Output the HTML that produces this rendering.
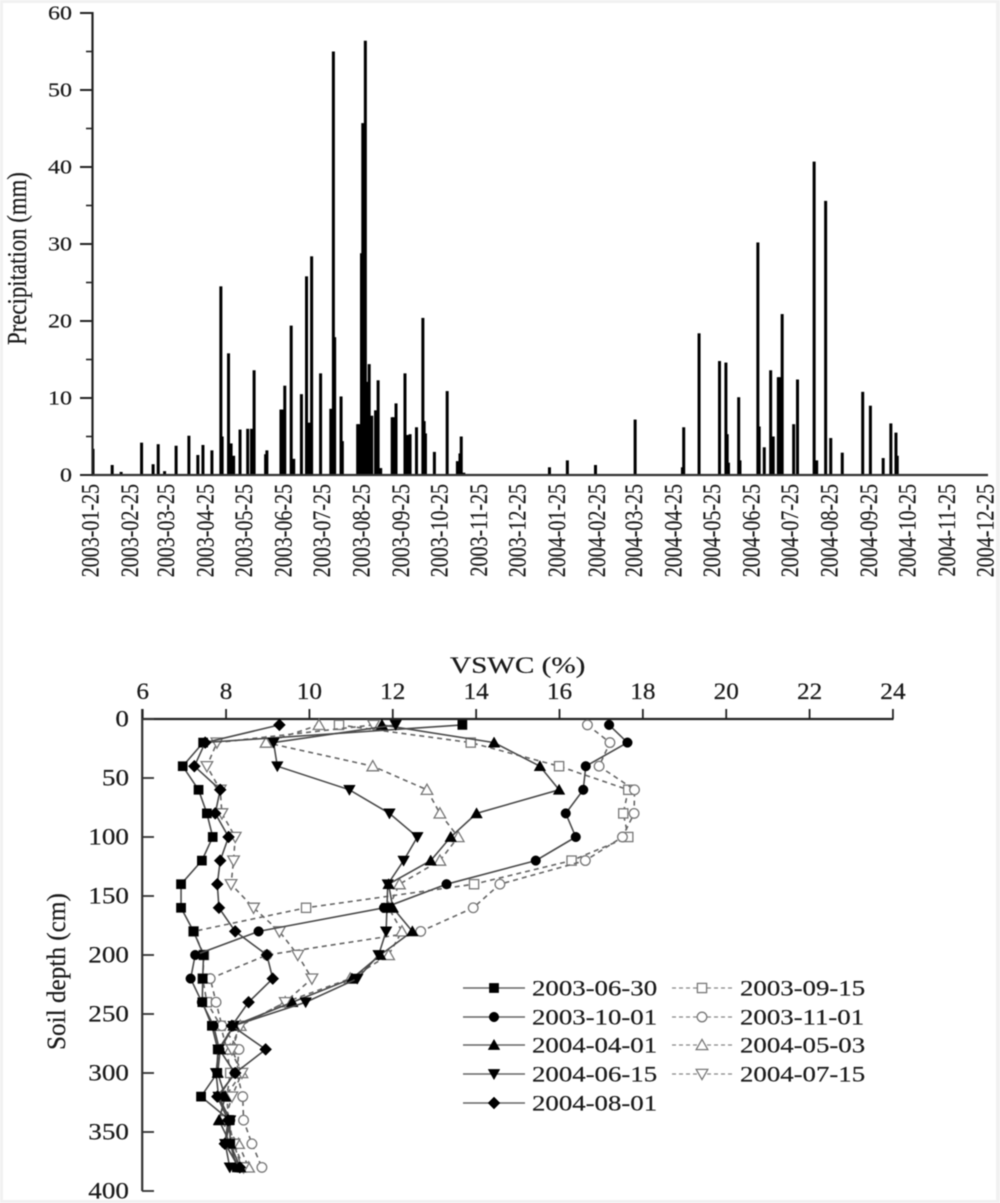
<!DOCTYPE html>
<html lang="en">
<head>
<meta charset="utf-8">
<title>Precipitation and soil water content</title>
<style>
html,body{margin:0;padding:0;background:#fff;width:1000px;height:1203px;overflow:hidden}
svg{display:block;filter:blur(0.6px)}
text{font-family:"Liberation Serif",serif;fill:#1a1a1a;stroke:#1a1a1a;stroke-width:0.2px}
</style>
</head>
<body>
<svg id="chart" width="1000" height="1203" viewBox="0 0 1000 1203" xmlns="http://www.w3.org/2000/svg">
  <rect x="0" y="0" width="1000" height="1203" fill="#f1f1f1"/>
  <rect x="3" y="3" width="993" height="1197" fill="#fff"/>
  <g id="precip-panel"></g>
  <g id="vswc-panel"></g>
  <text font-size="27" transform="translate(26,345) rotate(-90) scale(0.845,1)">Precipitation (mm)</text>
  <text font-size="26" transform="translate(65,1050) rotate(-90) scale(0.97,1)">Soil depth (cm)</text>
  <text font-size="23" transform="translate(450,673) scale(1.27,1)">VSWC (%)</text>
</svg>
<script>
// ---------- precipitation data ----------
const precipDays = [0,15,22,38,47,51,56,65,75,82,86,93,100,101,106,108,110,115,121,124,126,135,136,147,148,150,155,157,163,167,169,171,178,186,188,189,194,195,207,208,210,211,213,214,216,218,221,223,225,234,235,237,244,246,248,253,258,259,260,267,277,285,287,288,290,357,371,393,424,461,462,474,490,495,496,497,505,506,520,521,525,530,532,536,537,539,548,551,564,566,573,577,586,602,608,618,624,628,629];
const precipValues = [3.4,1.3,0.4,4.2,1.4,4.0,0.5,3.8,5.1,2.6,3.9,3.2,24.5,5.0,15.8,4.1,2.5,5.9,6.0,6.0,13.6,2.7,3.2,8.5,8.5,11.6,19.4,2.1,10.5,25.8,6.8,28.4,13.2,8.6,55,17.9,10.2,4.4,6.6,6.6,28.8,45.7,56.4,12.1,14.4,7.7,8.4,12.3,0.9,7.5,7.5,9.3,13.2,5.2,5.3,6.2,20.4,7.0,5.4,3.0,10.9,1.8,2.8,5.0,0.3,1.0,1.9,1.3,7.2,1.0,6.2,18.4,14.8,14.6,5.3,1.6,10.1,1.9,30.2,6.3,3.6,13.6,5.0,12.7,12.7,20.9,6.6,12.4,40.7,1.9,35.6,4.8,2.9,10.8,9.0,2.2,6.7,5.5,2.5];
const precipDateLabels = ["2003-01-25","2003-02-25","2003-03-25","2003-04-25","2003-05-25","2003-06-25","2003-07-25","2003-08-25","2003-09-25","2003-10-25","2003-11-25","2003-12-25","2004-01-25","2004-02-25","2004-03-25","2004-04-25","2004-05-25","2004-06-25","2004-07-25","2004-08-25","2004-09-25","2004-10-25","2004-11-25","2004-12-25"];
const precipYTicks = [0,10,20,30,40,50,60];
const precipYMinorTicks = [5,15,25,35,45,55];

// ---------- soil moisture data ----------
const depths = [5,20,40,60,80,100,120,140,160,180,200,220,240,260,280,300,320,340,360,380];
const vswc20030630 = [13.67,7.45,6.96,7.34,7.54,7.68,7.42,6.92,6.92,7.22,7.46,7.44,7.43,7.66,7.8,7.79,7.4,8.09,8.1,8.26];
const vswc20031001 = [17.19,17.63,16.63,16.57,16.15,16.39,15.43,13.29,11.79,8.78,7.26,7.15,7.42,7.7,7.84,8.21,7.82,8.1,7.98,8.3];
const vswc20040401 = [11.74,14.43,15.53,15.99,14.01,13.39,12.91,11.9,12.0,12.47,11.7,11.02,9.59,8.18,7.86,7.8,7.98,7.83,8.1,8.34];
const vswc20040615 = [12.07,9.14,9.23,10.96,11.92,12.59,12.26,11.88,11.86,11.84,11.66,11.15,9.91,8.18,7.82,7.76,7.82,8.1,7.98,8.09];
const vswc20040801 = [9.28,7.5,7.24,7.86,7.74,8.06,7.86,7.79,7.83,8.22,8.98,9.12,8.54,8.14,8.95,8.22,7.79,8.05,7.97,8.33];
const vswc20030915 = [10.71,13.87,15.99,17.65,17.53,17.65,16.29,13.95,9.92,7.22,7.47,7.44,7.54,7.87,8.02,8.1,8.02,8.06,8.18,8.38];
const vswc20031101 = [16.67,17.21,16.95,17.8,17.79,17.51,16.62,14.57,13.93,12.67,8.98,7.62,7.76,7.9,8.31,8.26,8.4,8.42,8.62,8.86];
const vswc20040503 = [10.23,8.96,11.52,12.82,13.13,13.57,13.13,12.16,11.9,12.22,11.9,10.98,9.42,8.34,8.1,8.38,7.98,7.86,8.3,8.54];
const vswc20040715 = [11.54,7.78,7.54,7.86,7.9,8.22,8.18,8.12,8.66,9.28,9.72,10.06,9.42,8.34,8.14,8.38,8.14,7.98,8.19,8.42];
const vswcXTicks = [6,8,10,12,14,16,18,20,22,24];
const depthTicks = [0,50,100,150,200,250,300,350,400];
const seriesNames = ["2003-06-30","2003-10-01","2004-04-01","2004-06-15","2004-08-01","2003-09-15","2003-11-01","2004-05-03","2004-07-15"];
const seriesMarkers = ["square","circle","up","down","diamond","square","circle","up","down"];
const seriesValues = [vswc20030630,vswc20031001,vswc20040401,vswc20040615,vswc20040801,vswc20030915,vswc20031101,vswc20040503,vswc20040715];

// ---------- helpers ----------
const NS = "http://www.w3.org/2000/svg";
function mk(tag, parent, attrs) {
  const el = document.createElementNS(NS, tag);
  for (const k in attrs) el.setAttribute(k, attrs[k]);
  parent.appendChild(el);
  return el;
}
const dayMs = 86400000;
const startDate = Date.UTC(2003, 0, 25);
function dateToDay(s) {
  const p = s.split("-");
  return (Date.UTC(+p[0], +p[1] - 1, +p[2]) - startDate) / dayMs;
}
function xDay(d) { return 93 + d * 1.2786; }
function yPrecip(v) { return 475 - v * 7.7; }
function xVswc(v) { return 142.7 + (v - 6) * 41.68; }
function yDepth(d) { return 719 + d * 1.18; }

// ---------- precipitation panel ----------
const pp = document.getElementById("precip-panel");
precipDays.forEach(function (day, i) {
  const top = yPrecip(precipValues[i]);
  const bar = mk("rect", pp, {x: xDay(day) - 1.5, y: top, width: 3, height: 475 - top, fill: "#000"});
  
  
});
const pyAxis = mk("line", pp, {x1: 92.5, y1: 12, x2: 92.5, y2: 476, stroke: "#222", "stroke-width": 2.2});


const pxAxis = mk("line", pp, {x1: 92, y1: 475, x2: 988, y2: 475, stroke: "#333", "stroke-width": 2.2});


precipYTicks.forEach(function (v) {
  const y = yPrecip(v);
  const t = mk("line", pp, {x1: 80, y1: y, x2: 92.5, y2: y, stroke: "#222", "stroke-width": 2});
  
  
  const l = mk("text", pp, {"font-size": 20, "text-anchor": "end", transform: "translate(72," + (y + 6.5) + ") scale(1.2,1)"});
  l.textContent = v;
  
  
});
precipYMinorTicks.forEach(function (v) {
  const y = yPrecip(v);
  const t = mk("line", pp, {x1: 86, y1: y, x2: 92.5, y2: y, stroke: "#222", "stroke-width": 1.6});
  
  
});
precipDateLabels.forEach(function (s) {
  const x = xDay(dateToDay(s)) + 5.5;
  const l = mk("text", pp, {"font-size": 25, "text-anchor": "end", transform: "translate(" + x + ",484) rotate(-90) scale(0.8,1)"});
  l.textContent = s;
  
  
});

// ---------- soil moisture panel ----------
const vp = document.getElementById("vswc-panel");
function drawMarker(parent, kind, cx, cy, filled) {
  const fill = filled ? "#000" : "#fff";
  const stroke = filled ? "#000" : "#777";
  const sw = filled ? 0.5 : 1.3;
  let m;
  if (kind === "square") {
    m = mk("rect", parent, {x: cx - 4.6, y: cy - 4.6, width: 9.2, height: 9.2, fill: fill, stroke: stroke, "stroke-width": sw});
  } else if (kind === "circle") {
    m = mk("circle", parent, {cx: cx, cy: cy, r: 4.8, fill: fill, stroke: stroke, "stroke-width": sw});
  } else if (kind === "up") {
    m = mk("polygon", parent, {points: (cx - 5.8) + "," + (cy + 4.6) + " " + (cx + 5.8) + "," + (cy + 4.6) + " " + cx + "," + (cy - 5.6), fill: fill, stroke: stroke, "stroke-width": sw});
  } else if (kind === "down") {
    m = mk("polygon", parent, {points: (cx - 5.8) + "," + (cy - 4.6) + " " + (cx + 5.8) + "," + (cy - 4.6) + " " + cx + "," + (cy + 5.6), fill: fill, stroke: stroke, "stroke-width": sw});
  } else {
    m = mk("polygon", parent, {points: (cx - 6) + "," + cy + " " + cx + "," + (cy - 6) + " " + (cx + 6) + "," + cy + " " + cx + "," + (cy + 6), fill: fill, stroke: stroke, "stroke-width": sw});
  }
  
  
}
const vsTop = mk("line", vp, {x1: 141.7, y1: 719, x2: 893.5, y2: 719, stroke: "#222", "stroke-width": 2.2});


const vsLeft = mk("line", vp, {x1: 142.2, y1: 709, x2: 142.2, y2: 1191, stroke: "#333", "stroke-width": 2.2});


vswcXTicks.forEach(function (v) {
  const x = xVswc(v);
  const t = mk("line", vp, {x1: x, y1: 709, x2: x, y2: 719, stroke: "#222", "stroke-width": 1.8});
  
  
  const l = mk("text", vp, {"font-size": 23, "text-anchor": "middle", transform: "translate(" + x + ",699) scale(1.1,1)"});
  l.textContent = v;
  
  
});
depthTicks.forEach(function (d) {
  const y = yDepth(d);
  const t = mk("line", vp, {x1: 142, y1: y, x2: 154, y2: y, stroke: "#333", "stroke-width": 1.8});
  
  
  const l = mk("text", vp, {"font-size": 23, "text-anchor": "end", transform: "translate(129," + (y + 7.5) + ") scale(1.18,1)"});
  l.textContent = d;
  
  
});

// draw open (dashed) series first, filled (solid) series on top
[5, 6, 7, 8, 0, 1, 2, 3, 4].forEach(function (si) {
  const filled = si < 5;
  const g = mk("g", vp, {});
  
  
  const pts = seriesValues[si].map(function (v, i) { return xVswc(v) + "," + yDepth(depths[i]); }).join(" ");
  const line = mk("polyline", g, {points: pts, fill: "none", stroke: filled ? "#4a4a4a" : "#666", "stroke-width": 1.6, "stroke-dasharray": filled ? "none" : "5 4"});
  
  
  seriesValues[si].forEach(function (v, i) {
    drawMarker(g, seriesMarkers[si], xVswc(v), yDepth(depths[i]), filled);
  });
});

// legend
const lg = mk("g", vp, {});


const legendRowY = [988, 1017, 1045, 1074, 1103];
seriesNames.forEach(function (name, si) {
  const filled = si < 5;
  const row = filled ? si : si - 5;
  const y = legendRowY[row];
  const x1 = filled ? 463 : 672, x2 = filled ? 525 : 733, xm = filled ? 494 : 702, xt = filled ? 532 : 740;
  const e = mk("g", lg, {});
  
  
  const ln = mk("line", e, {x1: x1, y1: y, x2: x2, y2: y, stroke: filled ? "#666" : "#888", "stroke-width": filled ? 1.4 : 1.2, "stroke-dasharray": filled ? "none" : "4 3"});
  
  
  drawMarker(e, seriesMarkers[si], xm, y, filled);
  const t = mk("text", e, {"font-size": 22, transform: "translate(" + xt + "," + (y + 7.5) + ") scale(1.22,1)"});
  t.textContent = name;
  
  
});
</script>
</body>
</html>
